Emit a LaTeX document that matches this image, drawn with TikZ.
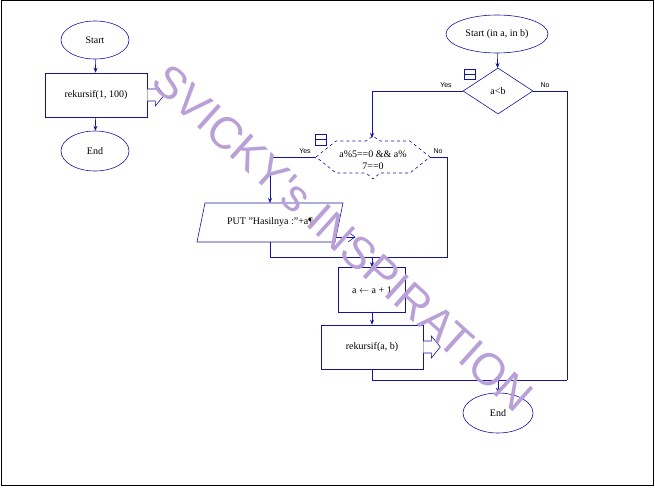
\documentclass[tikz,border=0pt]{standalone}
\usepackage{fontspec}
\setmainfont{Liberation Serif}
\newfontfamily\lab{Liberation Sans}
\usetikzlibrary{shapes.geometric,arrows.meta}
\definecolor{fc}{RGB}{20,20,160}
\definecolor{wm}{RGB}{185,160,215}
\tikzset{
  every node/.style={font=\fontsize{10}{12}\selectfont},
  ln/.style={draw=fc, line width=0.6pt},
  term/.style={ln, ellipse, minimum width=68pt, minimum height=38pt, inner sep=0pt},
  proc/.style={ln, rectangle, inner sep=0pt},
  yn/.style={font=\lab\fontsize{7}{8}\selectfont, inner sep=1pt},
  arr/.style={ln, -{Stealth[length=5pt,width=4pt]}},
}
\begin{document}
\begin{tikzpicture}[x=1pt,y=-1pt]
\useasboundingbox (0,0) rectangle (655,487);
\draw[line width=1pt] (1,1) rectangle (653,485);
% left
\node[term] (s1) at (95,40) {Start};
\node[proc, minimum width=102pt, minimum height=44pt] (r1) at (96,95) {rekursif(1, 100)};
\node[term, minimum height=40pt] (e1) at (95,151) {End};
\draw[arr] (s1) -- (r1);
\draw[arr] (r1) -- (e1);
\draw[ln, fill=white] (r1.east|-0,89) -- ++(8,0) -- ++(0,-5) -- ++(9,11) -- ++(-9,11) -- ++(0,-5) -- ++(-8,0);
% right
\node[term, minimum width=102pt] (s2) at (497,34) {Start (in a, in b)};
\node[ln, diamond, aspect=1.55, minimum width=70pt, minimum height=46pt, inner sep=0pt] (d1) at (498,91) {a<b};
\draw[ln] (464,69) rectangle (475,79); \draw[ln] (464,74) -- (475,74);
\draw[arr] (s2) -- (d1);
\coordinate (hx) at (373,160);
\draw[ln, dashed] (316,157) -- (336,141) -- (366,141) -- (373,136) -- (380,141) -- (410,141) -- (430,157) -- (410,173) -- (380,173) -- (373,179) -- (366,173) -- (336,173) -- cycle;
\node[align=center] (d2) at (hx) {a\%5==0 \&\& a\%\\7==0};
\draw[ln] (315,134) rectangle (326,145); \draw[ln] (315,139.5) -- (326,139.5);
\draw[arr] (d1.west) -- (372,91) -- (372,138);
\node[yn] at (446,85) {Yes};
\node[yn] at (545,85) {No};
\draw[ln] (d1.east) -- (567,91) -- (567,380);
\coordinate (p1) at (270,222);
\draw[ln] (205,203) -- (343,203) -- (335,242) -- (197,242) -- cycle;
\node (p1t) at (270,222) {PUT "Hasilnya :"+a¶};
\draw[arr] (316,157) -- (270,157) -- (270,203);
\node[yn] at (305,151) {Yes};
\node[yn] at (438,151) {No};
\draw[ln] (336,237) -- (355,237); \draw[ln] (348,232) -- (355,237) -- (348,242);
\coordinate (m1) at (372,257);
\draw[ln] (430,157) -- (447,157) -- (447,257) -- (270,257) -- (270,242);
\node[proc, minimum width=67pt, minimum height=45pt] (a1) at (372,290) {a $\leftarrow$ a + 1};
\draw[arr] (m1) -- (a1);
\node[proc, minimum width=102pt, minimum height=44pt] (r2) at (372,347) {rekursif(a, b)};
\draw[arr] (a1) -- (r2);
\draw[ln, fill=white] (r2.east|-0,341) -- ++(8,0) -- ++(0,-5) -- ++(9,11) -- ++(-9,11) -- ++(0,-5) -- ++(-8,0);
\node[term, minimum width=70pt, minimum height=40pt] (e2) at (498,413) {End};
\draw[ln] (r2.south) -- (372,380) -- (567,380);
\draw[arr] (498,380) -- (e2);
% watermark
\node[wm, font=\lab\fontsize{45}{45}\selectfont, rotate=-42] at (343,238) {SVICKY's INSPIRATION};
\end{tikzpicture}
\end{document}
